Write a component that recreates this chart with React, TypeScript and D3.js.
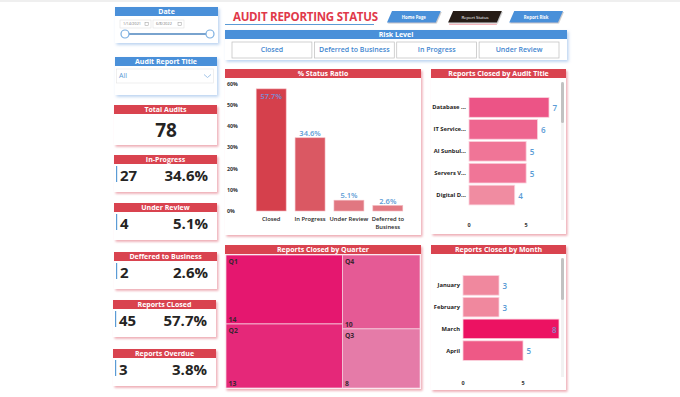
import React from 'react';
import * as d3 from 'd3';

const W = 680;
const H = 397;
const FONT = "'Open Sans', 'Noto Sans', sans-serif";
const RED = '#D9434F';
const BLUE = '#4A90D9';
const VAL_BLUE = '#5B9BD5';

// ---- data ----
const dateRange = ['1/14/2021', '6/8/2022'];
const navButtons = ['Home Page', 'Report Status', 'Report Risk'];
const activeNav = 'Report Status';
const riskLevels = ['Closed', 'Deferred to Business', 'In Progress', 'Under Review'];

const totalAudits = 78;
const kpiTitles = ['In-Progress', 'Under Review', 'Deffered to Business', 'Reports CLosed', 'Reports Overdue'];
const kpiCounts = [27, 4, 2, 45, 3];

const statusLabels = ['Closed', 'In Progress', 'Under Review', 'Deferred to Business'];
const statusValues = [57.7, 34.6, 5.1, 2.6];
const statusTicks = [0, 10, 20, 30, 40, 50, 60];

const auditTitles = ['Database ...', 'IT Service...', 'Al Sunbul...', 'Servers V...', 'Digital D...'];
const auditCounts = [7, 6, 5, 5, 4];

const quarters = ['Q1', 'Q2', 'Q3', 'Q4'];
const quarterCounts = [14, 13, 8, 10];

const months = ['January', 'February', 'March', 'April'];
const monthCounts = [3, 3, 8, 5];

const barTicks = [0, 5];

// card frame with coloured header band
const Card = ({ x, y, w, h, title, color, shadow, hh = 9 }: any) => (
  <g>
    <rect x={x} y={y} width={w} height={h} fill="#fff" filter={`url(#${shadow})`} />
    <rect x={x} y={y} width={w} height={hh} fill={color} />
    <text x={x + w / 2} y={y + hh / 2 + 0.3} dy="0.35em" textAnchor="middle" fill="#fff"
      fontWeight={700} fontSize={7}>{title}</text>
  </g>
);

const wrap = (s: string) => {
  if (s.length <= 14) return [s];
  const i = s.lastIndexOf(' ');
  return [s.slice(0, i), s.slice(i + 1)];
};

const App = () => {
  // kpi cards
  const kpiY = [155, 203, 252, 300, 349];
  const kpiX = [114, 114, 114, 113, 113];

  // status ratio bar chart
  const yS = d3.scaleLinear().domain([0, 60]).range([211, 84]);
  const xS = d3.scaleBand().domain(statusLabels).range([246.5, 412.5]).paddingInner(0.23).paddingOuter(0.25);
  const cS = d3.scaleLinear<string>().domain([2.6, 57.7]).range(['#E27A83', '#D5404C']);

  // audit title bars
  const xA = d3.scaleLinear().domain([0, 7]).range([469, 549]);
  const yA = d3.scaleBand().domain(auditTitles).range([96.5, 206]).paddingInner(0.1).paddingOuter(0.05);
  const cA = d3.scaleLinear<string>().domain([4, 5, 7]).range(['#F08CA1', '#F07597', '#EC5486']);

  // month bars
  const xM = d3.scaleLinear().domain([0, 8]).range([463, 559]);
  const yM = d3.scaleBand().domain(months).range([274.5, 361.5]).paddingInner(0.1).paddingOuter(0.05);
  const cM = d3.scaleLinear<string>().domain([3, 8]).range(['#F0889E', '#EC1262']);

  // quarter treemap
  const root = d3.hierarchy<any>({ children: quarters.map((q, i) => ({ name: q, value: quarterCounts[i] })) })
    .sum((d: any) => d.value || 0)
    .sort((a: any, b: any) => b.value - a.value);
  d3.treemap<any>().tile(d3.treemapSquarify).size([194, 133])(root);
  const cQ = d3.scaleLinear<string>().domain([8, 14]).range(['#E57BA8', '#E5176F']);

  // nav + risk
  const xN = d3.scaleBand().domain(navButtons).range([387, 563]).paddingInner(0.12);
  const xR = d3.scaleBand().domain(riskLevels).range([232, 559]).paddingInner(0.03);

  return (
    <svg width={W} height={H} style={{ position: 'absolute', left: 0, top: 0, background: '#fff' }}
      fontFamily={FONT}>
      <defs>
        <filter id="shPink" x="-10%" y="-10%" width="130%" height="130%">
          <feDropShadow dx="1.5" dy="1.8" stdDeviation="1.3" floodColor="#E8919C" floodOpacity="0.75" />
        </filter>
        <filter id="shBlue" x="-10%" y="-10%" width="130%" height="130%">
          <feDropShadow dx="1.5" dy="1.8" stdDeviation="1.5" floodColor="#9DC0EA" floodOpacity="0.7" />
        </filter>
        <filter id="shBtn" x="-10%" y="-20%" width="130%" height="150%">
          <feDropShadow dx="0.8" dy="1" stdDeviation="0.6" floodColor="#888" floodOpacity="0.5" />
        </filter>
      </defs>
      <rect x={0} y={0} width={W} height={2} fill="#EFEFEF" />

      {/* Date slicer */}
      <Card x={115} y={7} w={103} h={36} title="Date" color={BLUE} shadow="shBlue" />
      {dateRange.map((d, i) => {
        const bx = 120 + i * 33;
        return (
          <g key={d}>
            <rect x={bx} y={20} width={31} height={8} fill="#fff" stroke="#E2E2E2" strokeWidth={0.6} />
            <text x={bx + 3} y={24} dy="0.35em" fontSize={3.8} fill="#777">{d}</text>
            <rect x={bx + 25} y={22.3} width={3.2} height={3.2} fill="none" stroke="#999" strokeWidth={0.5} />
          </g>
        );
      })}
      <line x1={125} x2={210} y1={34} y2={34} stroke="#4C84BE" strokeWidth={1.4} />
      <circle cx={125} cy={34} r={4} fill="#fff" stroke="#7AAEE0" strokeWidth={1.2} />
      <circle cx={210} cy={34} r={4} fill="#fff" stroke="#7AAEE0" strokeWidth={1.2} />

      {/* Audit report title slicer */}
      <Card x={115} y={57} w={102} h={38} title="Audit Report Title" color={BLUE} shadow="shBlue" />
      <rect x={116.5} y={69} width={97} height={14} fill="#fff" stroke="#E4E4E4" strokeWidth={0.6} />
      <text x={119} y={76} dy="0.35em" fontSize={7} fill={VAL_BLUE}>All</text>
      <path d="M204,74.5 L207.5,77.5 L211,74.5" fill="none" stroke="#8DB6E2" strokeWidth={0.8} />

      {/* Total audits */}
      <Card x={114} y={105} w={103} h={40} title="Total Audits" color={RED} shadow="shPink" />
      <text x={166} y={137} textAnchor="middle" fontSize={19} fontWeight={700} fill="#252423">{totalAudits}</text>

      {/* KPI cards */}
      {kpiTitles.map((t, i) => {
        const x = kpiX[i];
        const y = kpiY[i];
        const pct = d3.format('.1f')((kpiCounts[i] / totalAudits) * 100) + '%';
        return (
          <g key={t}>
            <Card x={x} y={y} w={103} h={37} title={t} color={RED} shadow="shPink" />
            <rect x={x + 2} y={y + 11} width={1.2} height={16} fill={VAL_BLUE} />
            <text x={x + 6} y={y + 25.5} fontSize={15} fontWeight={700} fill="#252423">{kpiCounts[i]}</text>
            <text x={x + 94} y={y + 25.5} textAnchor="end" fontSize={15} fontWeight={700} fill="#252423">{pct}</text>
          </g>
        );
      })}

      {/* Title */}
      <text x={233} y={21} fontSize={11.5} fontWeight={700} fill="#E0394A" textLength={145}
        lengthAdjust="spacing">AUDIT REPORTING STATUS</text>
      <line x1={225} x2={374} y1={24.5} y2={24.5} stroke={VAL_BLUE} strokeWidth={1} />

      {/* Nav buttons */}
      {navButtons.map(b => {
        const x0 = xN(b) as number;
        const w = xN.bandwidth();
        const on = b === activeNav;
        return (
          <g key={b}>
            <polygon points={`${x0 + 5},11 ${x0 + w},11 ${x0 + w - 5},22.5 ${x0},22.5`}
              fill={on ? '#251A18' : BLUE} filter="url(#shBtn)" />
            {on && <line x1={x0 + 1} x2={x0 + w - 5} y1={24.3} y2={24.3} stroke="#F0A2AA" strokeWidth={1} />}
            <text x={x0 + w / 2} y={17} dy="0.35em" textAnchor="middle" fontSize={4.3} fill="#fff"
              fontWeight={on ? 400 : 700}>{b}</text>
          </g>
        );
      })}

      {/* Risk level */}
      <Card x={225} y={30} w={342} h={30} title="Risk Level" color={BLUE} shadow="shBlue" />
      {riskLevels.map(r => (
        <g key={r}>
          <rect x={xR(r)} y={42} width={xR.bandwidth()} height={16} fill="#fff" stroke="#BDBDBD" strokeWidth={0.7} />
          <text x={(xR(r) as number) + xR.bandwidth() / 2} y={50} dy="0.35em" textAnchor="middle"
            fontSize={7} fontWeight={600} fill="#3F86CF">{r}</text>
        </g>
      ))}

      {/* % Status Ratio */}
      <Card x={225} y={69} w={196} h={166} title="% Status Ratio" color={RED} shadow="shPink" />
      {statusTicks.map(t => (
        <text key={t} x={227} y={yS(t)} dy="0.35em" fontSize={5.3} fontWeight={700} fill="#333">{t}%</text>
      ))}
      {statusLabels.map((s, i) => {
        const x0 = xS(s) as number;
        const v = statusValues[i];
        const top = yS(v);
        const inside = top - 12 < 84;
        return (
          <g key={s}>
            <rect x={x0} y={top} width={xS.bandwidth()} height={yS(0) - top} fill={cS(v)}
              stroke="#F3B9BF" strokeWidth={0.6} />
            <text x={x0 + xS.bandwidth() / 2} y={inside ? top + 8 : top - 4.5} dy="0.35em" textAnchor="middle"
              fontSize={7.5} fontWeight={600} fill={inside ? '#7A8FD8' : VAL_BLUE}>{v}%</text>
            {wrap(s).map((line, k) => (
              <text key={k} x={x0 + xS.bandwidth() / 2} y={219 + k * 7.5} dy="0.35em" textAnchor="middle"
                fontSize={5.8} fontWeight={600} fill="#252423">{line}</text>
            ))}
          </g>
        );
      })}

      {/* Reports closed by audit title */}
      <Card x={431} y={69} w={135} h={165} title="Reports Closed by Audit Title" color={RED} shadow="shPink" />
      <rect x={561} y={82} width={3} height={138} fill="#F2F2F2" />
      <rect x={561} y={82} width={3} height={41} rx={1.5} fill="#C2C2C2" />
      {auditTitles.map((a, i) => {
        const y0 = yA(a) as number;
        const v = auditCounts[i];
        return (
          <g key={a}>
            <rect x={xA(0)} y={y0} width={xA(v) - xA(0)} height={yA.bandwidth()} fill={cA(v)}
              stroke="#FBD3DE" strokeWidth={0.8} />
            <text x={466} y={y0 + yA.bandwidth() / 2} dy="0.35em" textAnchor="end" fontSize={5.8}
              fontWeight={700} fill="#252423">{a}</text>
            <text x={xA(v) + 3.5} y={y0 + yA.bandwidth() / 2 + 1} dy="0.35em" fontSize={8} fontWeight={600}
              fill={VAL_BLUE}>{v}</text>
          </g>
        );
      })}
      {barTicks.map(t => (
        <text key={t} x={xA(t)} y={225} dy="0.35em" textAnchor="middle" fontSize={5.5} fontWeight={700}
          fill="#333">{t}</text>
      ))}

      {/* Reports closed by quarter */}
      <Card x={225} y={245} w={196} h={144} title="Reports Closed by Quarter" color={RED} shadow="shPink" />
      <g transform="translate(226,255)">
        {root.leaves().map((n: any) => (
          <g key={n.data.name}>
            <rect x={n.x0} y={n.y0} width={n.x1 - n.x0} height={n.y1 - n.y0} fill={cQ(n.value)}
              stroke="#F6C9DA" strokeWidth={0.8} />
            <text x={n.x0 + 2.5} y={n.y0 + 6.5} dy="0.35em" fontSize={6.8} fontWeight={700}
              fill="#3A2530">{n.data.name}</text>
            <text x={n.x0 + 2.5} y={n.y1 - 4} dy="0.35em" fontSize={6.8} fontWeight={700}
              fill="#3A2530">{n.value}</text>
          </g>
        ))}
      </g>

      {/* Reports closed by month */}
      <Card x={431} y={245} w={135} h={145} title="Reports Closed by Month" color={RED} shadow="shPink" />
      <rect x={561} y={258} width={3} height={119} fill="#F2F2F2" />
      <rect x={561} y={258} width={3} height={42} rx={1.5} fill="#C2C2C2" />
      {months.map((m, i) => {
        const y0 = yM(m) as number;
        const v = monthCounts[i];
        const inside = xM(v) + 12 > 561;
        return (
          <g key={m}>
            <rect x={xM(0)} y={y0} width={xM(v) - xM(0)} height={yM.bandwidth()} fill={cM(v)}
              stroke="#FBD3DE" strokeWidth={0.8} />
            <text x={460} y={y0 + yM.bandwidth() / 2} dy="0.35em" textAnchor="end" fontSize={5.8}
              fontWeight={700} fill="#252423">{m}</text>
            <text x={inside ? xM(v) - 2.5 : xM(v) + 3.5} y={y0 + yM.bandwidth() / 2 + 1} dy="0.35em"
              textAnchor={inside ? 'end' : 'start'} fontSize={8} fontWeight={600}
              fill={inside ? '#8A86C8' : VAL_BLUE}>{v}</text>
          </g>
        );
      })}
      {barTicks.map(t => (
        <text key={t} x={xM(t)} y={383} dy="0.35em" textAnchor="middle" fontSize={5.5} fontWeight={700}
          fill="#333">{t}</text>
      ))}
    </svg>
  );
};

export default App;
